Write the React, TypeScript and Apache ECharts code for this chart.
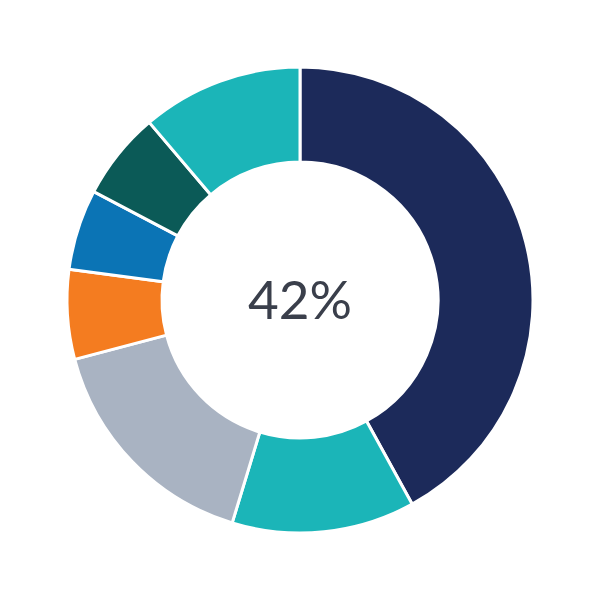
import React, { useRef, useEffect } from 'react';
import * as echarts from 'echarts';

const categories = ['A', 'B', 'C', 'D', 'E', 'F', 'G'];
const values = [42, 12.7, 16.2, 6.2, 5.6, 6.1, 11.2];
const colors = ['#1c2a5a', '#1bb5b8', '#a9b3c2', '#f47c20', '#0b74b5', '#0b5a57', '#1bb5b8'];
const centerLabel = '42%';

const App: React.FC = () => {
    const chartRef = useRef<HTMLDivElement>(null);

    useEffect(() => {
        if (!chartRef.current) return;
        const chart = echarts.init(chartRef.current, null, { renderer: 'svg' });

        const option: echarts.EChartsOption = {
            animation: false,
            backgroundColor: '#ffffff',
            series: [
                {
                    type: 'pie',
                    center: [300, 300],
                    radius: [138, 233],
                    startAngle: 90,
                    clockwise: true,
                    label: { show: false },
                    labelLine: { show: false },
                    itemStyle: {
                        borderColor: '#ffffff',
                        borderWidth: 3
                    },
                    data: categories.map((c, i) => ({
                        name: c,
                        value: values[i],
                        itemStyle: { color: colors[i] }
                    }))
                }
            ],
            graphic: [
                {
                    type: 'text',
                    x: 300,
                    y: 298,
                    style: {
                        text: centerLabel,
                        fill: '#3a3f4b',
                        font: '400 53px Lato, sans-serif',
                        align: 'center',
                        verticalAlign: 'middle'
                    }
                }
            ]
        };

        chart.setOption(option);

        return () => {
            chart.dispose();
        };
    }, []);

    return (
        <div
            ref={chartRef}
            style={{ position: 'fixed', left: 0, top: 0, width: 600, height: 600 }}
        />
    );
};

export default App;
